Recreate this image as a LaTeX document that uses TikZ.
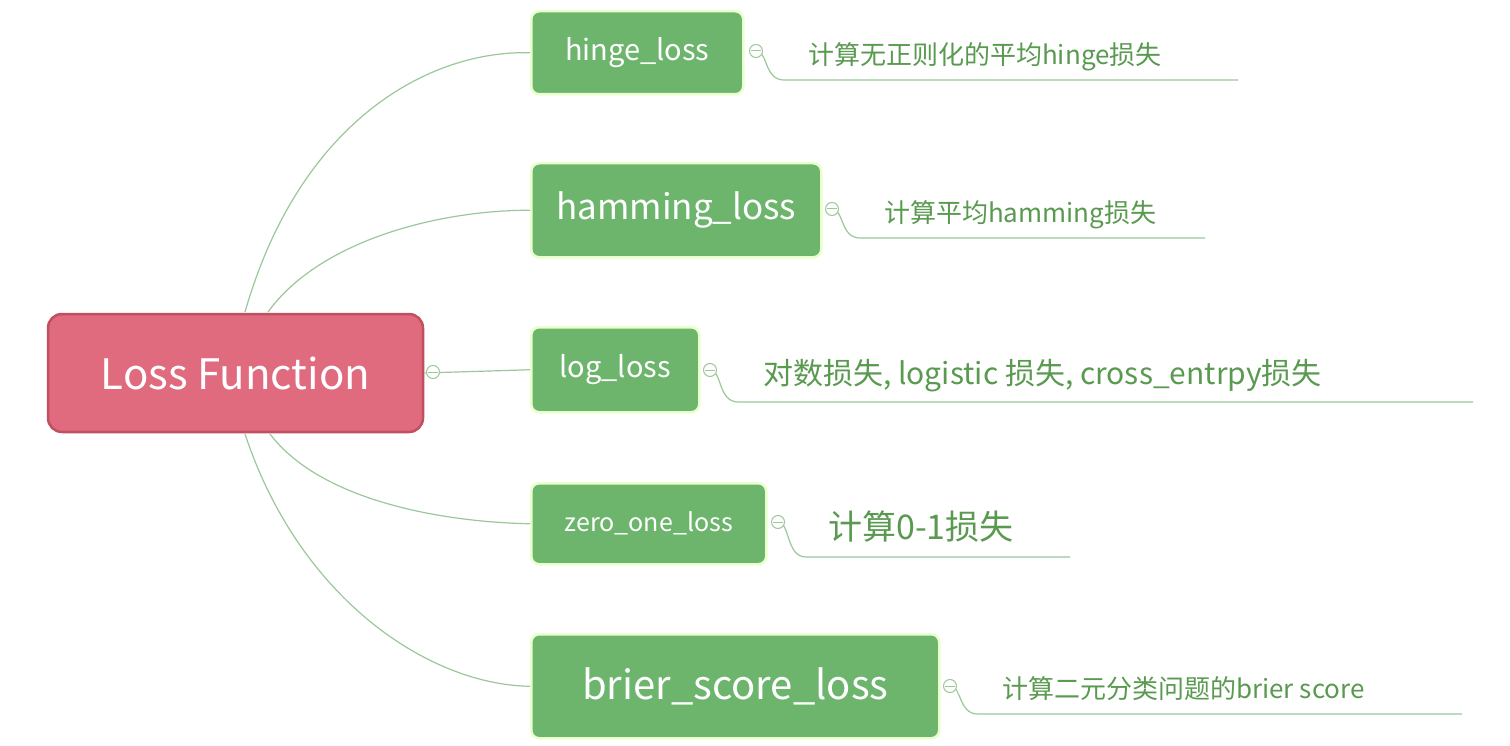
\documentclass[tikz,border=0pt]{standalone}
\usepackage{fontspec}
\setmainfont{Noto Sans CJK SC}
\begin{document}
\begin{tikzpicture}[x=1pt,y=-1pt,
  leaf/.style={draw=green!25!lime!20!white,line width=2.5pt,fill=lf,rounded corners=8pt,text=white,anchor=north west,inner sep=0pt},
  conn/.style={draw=cn,line width=1.2pt},
  ul/.style={draw=cn,line width=1.2pt},
  desc/.style={text=dt,anchor=base west,inner sep=0pt},
  coll/.style={circle,draw=cn,fill=white,line width=1pt,minimum size=13pt,inner sep=0pt}]
\definecolor{lf}{HTML}{6DB56D}
\definecolor{cn}{HTML}{9CC79A}
\definecolor{dt}{HTML}{5A9A50}
\definecolor{rf}{HTML}{E06A7E}
\definecolor{rb}{HTML}{C0505F}
\useasboundingbox (0,0) rectangle (1510,746);
\fill[white] (0,0) rectangle (1510,746);
% root
\node[draw=rb,line width=2.5pt,fill=rf,rounded corners=14pt,text=white,minimum width=375pt,minimum height=118pt,font=\fontsize{42}{50}\selectfont] (root) at (235.5,373) {Loss Function};
% leaves
\node[leaf,minimum width=212pt,minimum height=83pt,font=\fontsize{29}{34}\selectfont] (n1) at (530,10) {};
\node at (n1.center) [text=white,font=\fontsize{29}{34}\selectfont] {hinge\_loss};
\node[leaf,minimum width=290pt,minimum height=94pt] (n2) at (530,162) {};
\node at (n2.center) [text=white,font=\fontsize{35}{40}\selectfont] {hamming\_loss};
\node[leaf,minimum width=168pt,minimum height=85pt] (n3) at (530,326) {};
\node at (n3.center) [text=white,font=\fontsize{29}{34}\selectfont] {log\_loss};
\node[leaf,minimum width=235pt,minimum height=81pt] (n4) at (530,482) {};
\node at (n4.center) [text=white,font=\fontsize{25}{30}\selectfont] {zero\_one\_loss};
\node[leaf,minimum width=408pt,minimum height=104pt] (n5) at (530,633) {};
\node at (n5.center) [text=white,font=\fontsize{40}{46}\selectfont] {brier\_score\_loss};
% connectors
\coordinate (r1) at (245,312); \coordinate (r2) at (268,312);
\coordinate (r4) at (270,434); \coordinate (r5) at (245,434);
\draw[conn] (r1) .. controls (300,120) and (430,50) .. (n1.west);
\draw[conn] (r2) .. controls (320,240) and (440,210) .. (n2.west);
\draw[conn] (root.east) -- (n3.west);
\draw[conn] (r4) .. controls (320,500) and (440,522) .. (n4.west);
\draw[conn] (r5) .. controls (300,600) and (430,685) .. (n5.west);
\node[coll] (c0) at (433,372) {}; \draw[cn,line width=1pt] (428,372)--(438,372);
% descriptions
\foreach \nm/\cx/\cy/\ly/\ex in {d1/756/51/80/1238, d2/832/209/238/1205, d3/710/370/402/1473, d4/778/522/557/1070, d5/950/686/714/1462}{
  \coordinate (\nm a) at (\cx,\cy);
  \coordinate (\nm b) at (\ex,\ly);
  \draw[ul] (\nm a) .. controls (\cx+12,\cy) and (\cx+8,\ly) .. (\cx+28,\ly) -- (\nm b);
  \node[coll] at (\nm a) {}; \draw[cn,line width=1pt] (\cx-5,\cy)--(\cx+5,\cy);
}
\node[desc,font=\fontsize{26}{30}\selectfont] (t1) at (808,65) {计算无正则化的平均hinge损失};
\node[desc,font=\fontsize{26}{30}\selectfont] (t2) at (884,223) {计算平均hamming损失};
\node[desc,font=\fontsize{30}{34}\selectfont] (t3) at (763,384) {对数损失, logistic 损失, cross\_entrpy损失};
\node[desc,font=\fontsize{34}{38}\selectfont] (t4) at (828,539) {计算0-1损失};
\node[desc,font=\fontsize{26}{30}\selectfont] (t5) at (1002,698) {计算二元分类问题的brier score};
\end{tikzpicture}
\end{document}
